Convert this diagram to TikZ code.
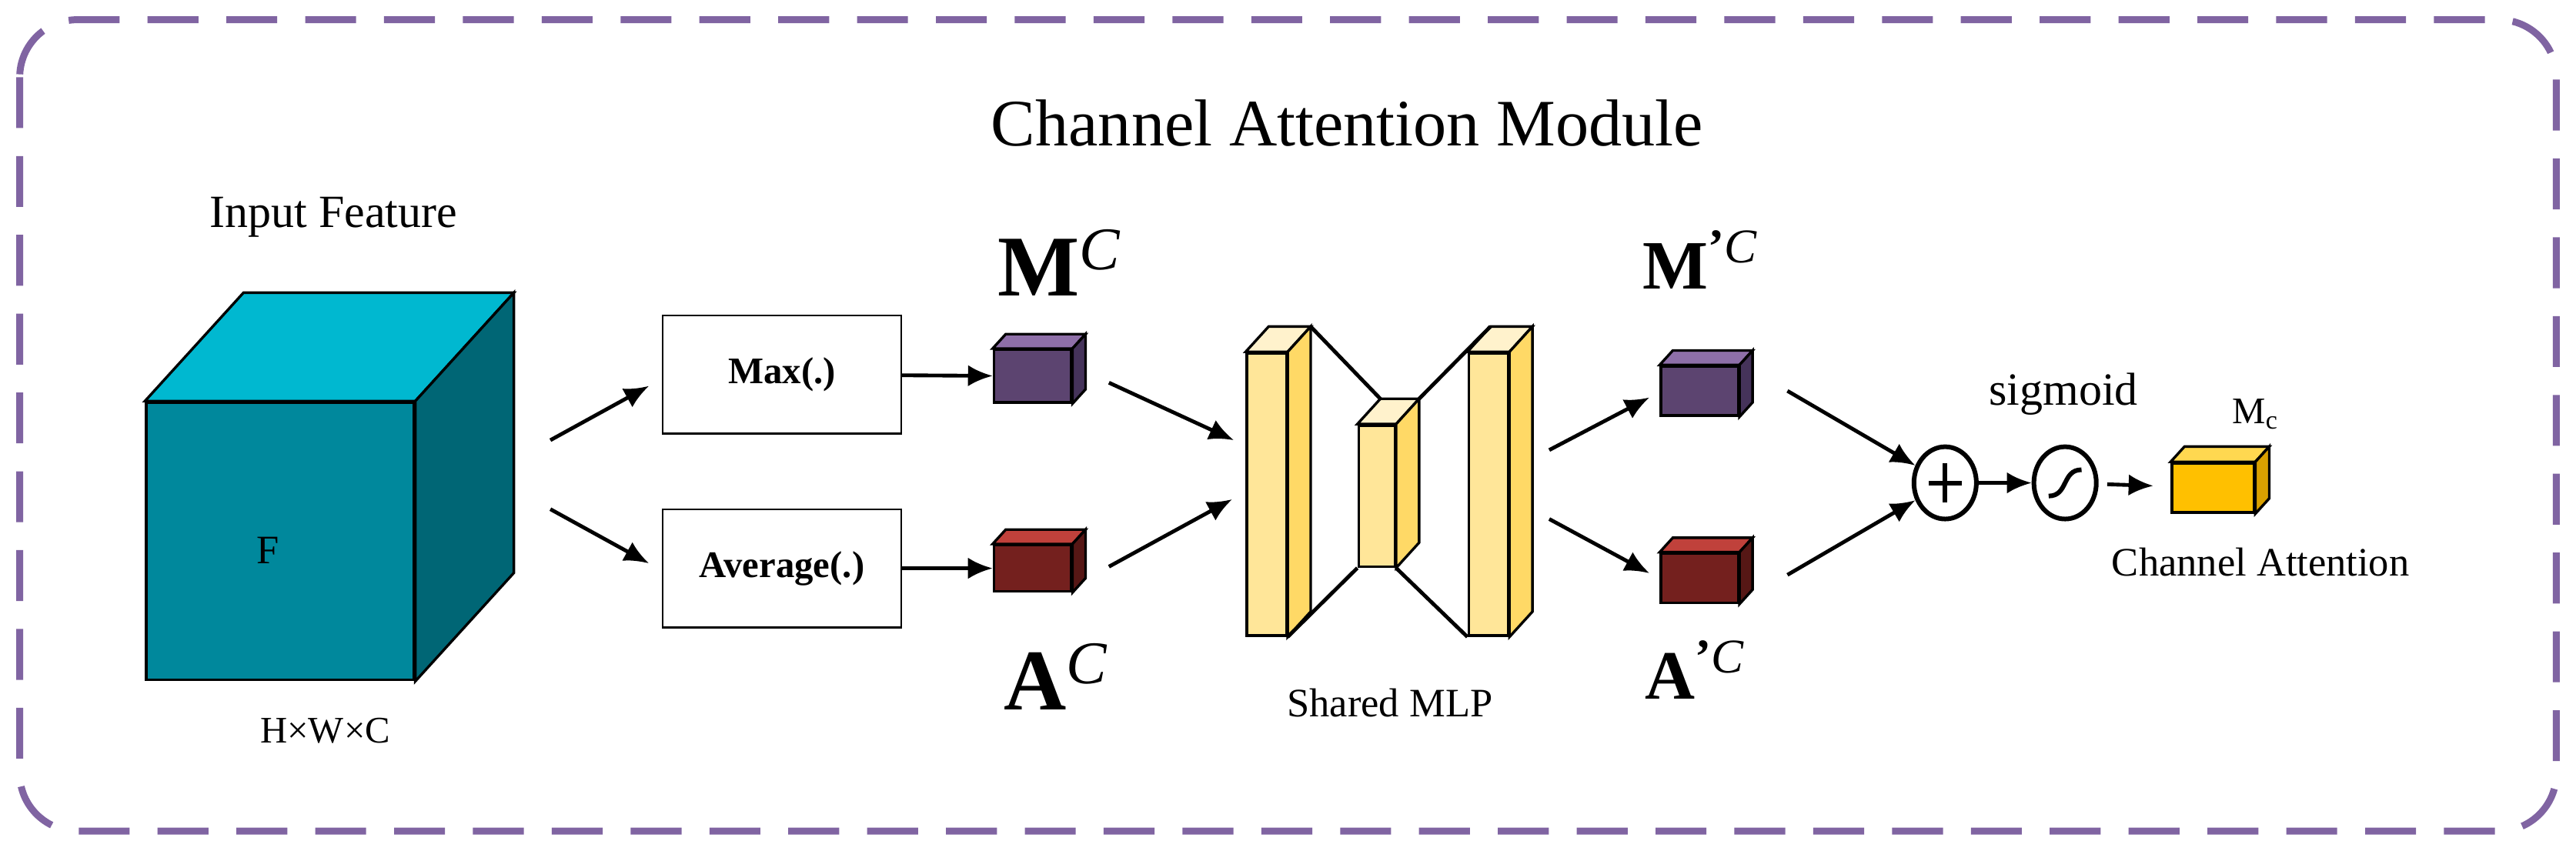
\documentclass[tikz,border=0pt]{standalone}
\usepackage{fontspec}
\setmainfont{Liberation Serif}
\usepackage{tikz}
\usetikzlibrary{positioning,calc,fit,arrows.meta,shapes.geometric}

\definecolor{frame}{HTML}{8064A2}
\definecolor{tealtop}{HTML}{00B8D0}
\definecolor{tealfront}{HTML}{00889C}
\definecolor{tealside}{HTML}{006675}
\definecolor{purtop}{HTML}{8E6FA8}
\definecolor{purfront}{HTML}{5C4470}
\definecolor{purside}{HTML}{45335A}
\definecolor{redtop}{HTML}{C0413B}
\definecolor{redfront}{HTML}{74201E}
\definecolor{redside}{HTML}{561715}
\definecolor{mlptop}{HTML}{FFF2CC}
\definecolor{mlpfront}{HTML}{FFE699}
\definecolor{mlpside}{HTML}{FFD966}
\definecolor{mctop}{HTML}{FFD850}
\definecolor{mcfront}{HTML}{FFC000}
\definecolor{mcside}{HTML}{D9A000}

% cube: name, x1, y1, x2, y2 (front face), depth, top, front, side colours
\newcommand{\blockcube}[9]{%
    \node[face, fill=#8, fit={(#2,#3) (#4,#5)}] (#1) {};
    \draw[face, fill=#7] (#1.north west) -- ++(#6,-1.1*#6) -- ($(#1.north east)+(#6,-1.1*#6)$) -- (#1.north east) -- cycle;
    \draw[face, fill=#9] (#1.north east) -- ++(#6,-1.1*#6) -- ($(#1.south east)+(#6,-1.1*#6)$) -- (#1.south east) -- cycle;
}

\begin{document}
\begin{tikzpicture}[x=0.02cm, y=-0.02cm,
            face/.style={draw, line width=0.9pt, inner sep=0pt},
            op/.style={draw, rectangle, line width=0.6pt, minimum width=2.9cm, minimum height=1.44cm, font=\fontsize{13}{15}\selectfont\bfseries},
            sym/.style={draw, ellipse, line width=1.6pt, minimum width=0.76cm, minimum height=0.88cm, inner sep=0pt},
            arr/.style={-{Latex[length=3mm,width=2.6mm]}, line width=1.3pt},
            lbl/.style={font=\fontsize{14}{16}\selectfont},]

        \useasboundingbox (0,0) rectangle (1568,518);
        \draw[frame, line width=2.4pt, dash pattern=on 0.62cm off 0.34cm, rounded corners=0.7cm]
            (12,12) rectangle (1556,506);

        % Titles
        \node[font=\fontsize{23}{26}\selectfont] (title) at (820,75) {Channel Attention Module};
        \node[font=\fontsize{16}{18}\selectfont] (inlbl) at (203,132) {Input Feature};

        % Input feature cube
        \blockcube{feat}{89}{245}{252}{414}{60}{tealtop}{tealfront}{tealside}
        \node[lbl] (F) at (163,335) {F};
        \node[font=\fontsize{13}{15}\selectfont] (hwc) at (198,445) {H×W×C};

        % Pooling
        \node[op] (maxop) at (476,228) {Max(.)};
        \node[op] (avgop) at (476,346) {Average(.)};
        \blockcube{pmax}{605}{213}{652}{245}{8}{purtop}{purfront}{purside}
        \blockcube{pavg}{605}{332}{652}{360}{8}{redtop}{redfront}{redside}
        \node[font=\fontsize{30}{32}\selectfont] (mclbl) at (645,160) {\textbf{M}\textsuperscript{\itshape C}};
        \node[font=\fontsize{30}{32}\selectfont] (aclbl) at (643,412) {\textbf{A}\textsuperscript{\itshape C}};

        % Shared MLP
        \blockcube{bar1}{759}{215}{783}{387}{14}{mlptop}{mlpfront}{mlpside}
        \blockcube{bar2}{827}{259}{849}{345}{14}{mlptop}{mlpfront}{mlpside}
        \blockcube{bar3}{894}{215}{918}{387}{14}{mlptop}{mlpfront}{mlpside}
        \draw[line width=1.3pt] ($(bar1.north east)+(14,-15.4)$) -- ($(bar2.north west)+(14,-15.4)$);
        \draw[line width=1.3pt] (bar1.south east) -- (bar2.south west);
        \draw[line width=1.3pt] ($(bar2.north east)+(14,-15.4)$) -- ($(bar3.north west)+(14,-15.4)$);
        \draw[line width=1.3pt] (bar2.south east) -- (bar3.south west);
        \node[lbl] (mlplbl) at (846,428) {Shared MLP};

        % MLP outputs
        \blockcube{qmax}{1011}{223}{1058}{253}{8}{purtop}{purfront}{purside}
        \blockcube{qavg}{1011}{337}{1058}{367}{8}{redtop}{redfront}{redside}
        \node[font=\fontsize{24}{26}\selectfont] (mplbl) at (1035,158) {\textbf{M}\textsuperscript{\textbf{'}\itshape C}};
        \node[font=\fontsize{24}{26}\selectfont] (aplbl) at (1032,408) {\textbf{A}\textsuperscript{\textbf{'}\itshape C}};

        % Sum, sigmoid, output
        \node[sym] (plus) at (1184,294) {};
        \draw[line width=1.6pt] ($(plus)+(-10,0)$) -- ($(plus)+(10,0)$)
                                ($(plus)+(0,-12)$) -- ($(plus)+(0,12)$);
        \node[sym] (sig) at (1257,294) {};
        \draw[line width=1.6pt] ($(sig)+(-10,8)$) .. controls ($(sig)+(2,8)$) and ($(sig)+(-2,-8)$) .. ($(sig)+(10,-8)$);
        \node[font=\fontsize{16}{18}\selectfont] (siglbl) at (1256,240) {sigmoid};
        \blockcube{mc}{1322}{282}{1372}{312}{8.5}{mctop}{mcfront}{mcside}
        \node[font=\fontsize{13}{15}\selectfont] (mclab) at (1373,252) {M\textsubscript{c}};
        \node[lbl] (calbl) at (1376,342) {Channel Attention};

        % Arrow ends
        \coordinate (s1) at (335,268); \coordinate (e1) at (395,235);
        \coordinate (s2) at (335,310); \coordinate (e2) at (395,343);
        \coordinate (s3) at (675,233); \coordinate (e3) at (751,268);
        \coordinate (s4) at (675,345); \coordinate (e4) at (750,304);
        \coordinate (s5) at (943,274); \coordinate (e5) at (1004,242);
        \coordinate (s6) at (943,316); \coordinate (e6) at (1004,349);
        \coordinate (s7) at (1088,238);
        \coordinate (s8) at (1088,350);

        \draw[arr] (s1) -- (e1);
        \draw[arr] (s2) -- (e2);
        \draw[arr] (maxop) -- (pmax);
        \draw[arr] (avgop) -- (pavg);
        \draw[arr] (s3) -- (e3);
        \draw[arr] (s4) -- (e4);
        \draw[arr] (s5) -- (e5);
        \draw[arr] (s6) -- (e6);
        \draw[arr] (s7) -- (plus);
        \draw[arr] (s8) -- (plus);
        \draw[arr] (plus) -- (sig);
        \draw[arr, shorten <=3pt, shorten >=6pt] (sig) -- (mc);
    \end{tikzpicture}
\end{document}
